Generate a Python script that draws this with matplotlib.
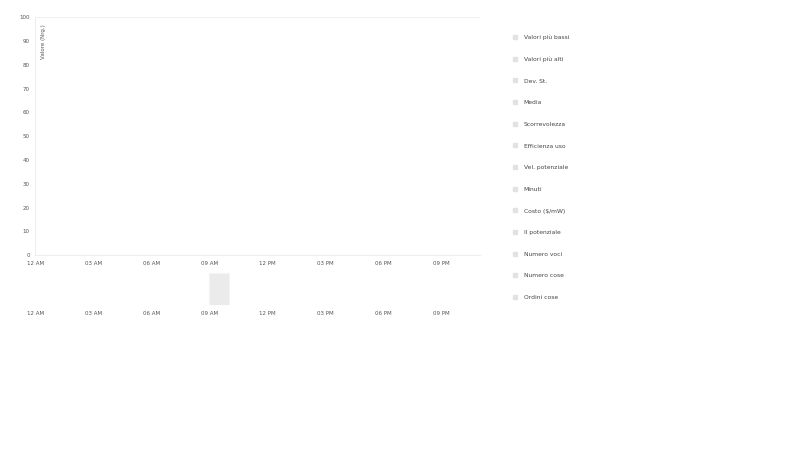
import matplotlib
matplotlib.use("Agg")
import matplotlib.pyplot as plt
from matplotlib.patches import Rectangle

# ---- data ----
series_names = ["Valori più bassi", "Valori più alti", "Dev. St.", "Media",
                "Scorrevolezza", "Efficienza uso", "Vel. potenziale", "Minuti",
                "Costo ($/mW)", "Il potenziale", "Numero voci", "Numero cose",
                "Ordini cose"]
series_x = [[] for _ in series_names]
series_y = [[] for _ in series_names]
x_ticks = [0, 3, 6, 9, 12, 15, 18, 21]
x_tick_labels = ["12 AM", "03 AM", "06 AM", "09 AM", "12 PM", "03 PM", "06 PM", "09 PM"]
y_ticks = [0, 10, 20, 30, 40, 50, 60, 70, 80, 90, 100]
x_range = [0, 23]
y_range = [0, 100]
brush_range = [9, 10]
y_label = "Valore (Nrg.)"

plt.rcParams['font.family'] = ['DejaVu Sans']
fig = plt.figure(figsize=(8, 4.5), dpi=100)
fig.patch.set_facecolor("white")

ax = fig.add_axes([0.044, 0.433, 0.556, 0.529])
for name, xs, ys in zip(series_names, series_x, series_y):
    ax.plot(xs, ys, marker="s", markersize=2.3, color="#e2e2e2", linestyle="none", label=name)
ax.set_xlim(*x_range)
ax.set_ylim(*y_range)
ax.set_xticks(x_ticks)
ax.set_xticklabels(x_tick_labels)
ax.set_yticks(y_ticks)
ax.tick_params(labelsize=4, colors="#555555", length=0, pad=4)
for s in ["top", "right"]:
    ax.spines[s].set_visible(False)
for s in ["left", "bottom"]:
    ax.spines[s].set_color("#eeeeee")
    ax.spines[s].set_linewidth(0.8)
ax.axhline(100, color="#f0f0f0", linewidth=0.8)
ax.text(0.012, 0.97, y_label, transform=ax.transAxes, rotation=90,
        ha="left", va="top", fontsize=4, color="#555555")

leg = ax.legend(loc="upper left", bbox_to_anchor=(1.063, 0.95), frameon=False,
                fontsize=4.3, labelspacing=2.76, handlelength=0.6, handletextpad=1.1,
                markerscale=1)
for t in leg.get_texts():
    t.set_color("#444444")

nav = fig.add_axes([0.044, 0.322, 0.556, 0.089])
nav.set_xlim(*x_range)
nav.set_ylim(0, 1)
nav.set_xticks(x_ticks)
nav.set_xticklabels(x_tick_labels)
nav.set_yticks([])
nav.tick_params(labelsize=4, colors="#555555", length=0, pad=4)
for s in nav.spines.values():
    s.set_visible(False)
nav.add_patch(Rectangle((brush_range[0], 0), brush_range[1] - brush_range[0], 0.8,
                        facecolor="#ebebeb", edgecolor="#f4f4f4", linewidth=0.8))

fig.savefig("out.png", dpi=100)
